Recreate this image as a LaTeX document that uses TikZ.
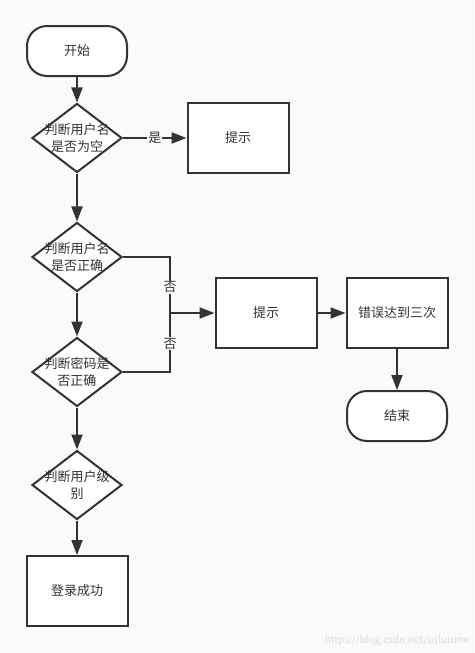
\documentclass[tikz,border=0pt]{standalone}
\usepackage{fontspec}
\setmainfont{Noto Sans CJK SC}
\usetikzlibrary{shapes.geometric,arrows.meta}
\definecolor{ink}{HTML}{333333}
\definecolor{paper}{HTML}{FAFAFA}
\definecolor{faint}{HTML}{DEDEDE}
\tikzstyle{every edge} = [draw,ink,line width=2pt,-{Triangle[length=15pt,width=11pt]}]
\tikzstyle{term} = [draw=ink,fill=white,rounded corners=20pt,minimum width=100pt,minimum height=50pt]
\tikzstyle{proc} = [draw=ink,fill=white,minimum width=101pt,minimum height=70pt]
\tikzstyle{test} = [draw=ink,fill=white,diamond,minimum width=90pt,minimum height=69pt,inner sep=0pt,label={[align=center]center:#1}]
\tikzstyle{lbl} = [fill=paper,inner sep=1pt]

\begin{document}
\begin{tikzpicture}[x=1pt,y=-1pt,line width=2pt,every node/.style={font=\fontsize{13}{17}\selectfont,text=ink}]

\fill[paper] (0,0) rectangle (474,653);
\useasboundingbox (0,0) rectangle (474,653);

\node[term] (start) at (77,51) {开始};
\node[test={判断用户名\\是否为空}] (d1) at (77,138) {};
\node[proc] (tip1) at (238,138) {提示};
\node[test={判断用户名\\是否正确}] (d2) at (77,257) {};
\node[test={判断密码是\\否正确}] (d3) at (77,372) {};
\coordinate (join) at (170,313);
\node[proc] (tip2) at (266,313) {提示};
\node[proc] (err) at (397,313) {错误达到三次};
\node[term] (end) at (397,416) {结束};
\node[test={判断用户级\\别}] (d4) at (77,485) {};
\node[proc] (ok) at (77,591) {登录成功};
\node[font=\fontsize{10}{12}\selectfont,text=faint] (mark) at (397,641) {https://blog.csdn.net/sqluisme};

\draw (start) edge (d1);
\draw (d1) edge node[lbl] {是} (tip1);
\draw (d1) edge (d2);
\draw (d2) edge (d3);
\draw (d3) edge (d4);
\draw (d4) edge (ok);
\draw[ink] (d2.east) -| node[lbl,pos=0.77] {否} (join);
\draw[ink] (d3.east) -| node[lbl,pos=0.74] {否} (join);
\draw (join) edge (tip2);
\draw (tip2) edge (err);
\draw (err) edge (end);

\end{tikzpicture}
\end{document}
